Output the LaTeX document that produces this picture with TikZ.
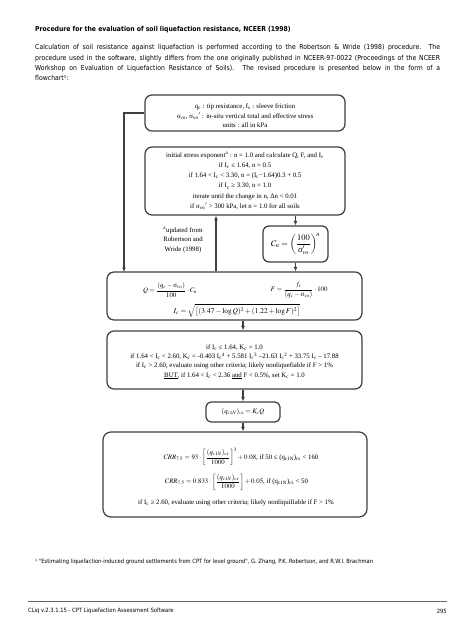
\documentclass[tikz,border=0pt]{standalone}
\usepackage{amsmath}
\usepackage{mathptmx}
\usepackage{fontspec}
\setmainfont{Liberation Serif}
\newfontfamily\sansbody{DejaVu Sans Condensed}
\usetikzlibrary{arrows.meta}
\newcommand{\sg}{\mbox{σ}}
\newcommand{\sbs}[1]{\textsubscript{#1}}
\begin{document}
\begin{tikzpicture}[x=1pt,y=-1pt,
  fcbox/.style={draw=black!75, line width=1.25pt, rounded corners=7pt, inner sep=0pt},
  fcarr/.style={draw=black!75, line width=1.25pt, -{Latex[length=4.5pt,width=4pt]}},
  ft/.style={font=\fontsize{6.8}{9.4}\selectfont, align=center, inner sep=0pt},
  ftb/.style={font=\fontsize{6.8}{10.2}\selectfont, align=center, inner sep=0pt},
  titlef/.style={font=\sansbody\bfseries\fontsize{6.8}{10}\selectfont, inner sep=0pt, anchor=west},
  bodyf/.style={font=\sansbody\fontsize{6.85}{10.2}\selectfont, inner sep=0pt},
  smallf/.style={font=\sansbody\fontsize{5.8}{7}\selectfont, inner sep=0pt}]
\coordinate (pgtl) at (0,0);
\coordinate (pgbr) at (474,632);
\fill[white] (pgtl) rectangle (pgbr);
\useasboundingbox (pgtl) rectangle (pgbr);

\node[titlef] (title) at (35,30) {Procedure for the evaluation of soil liquefaction resistance, NCEER (1998)};

\node[bodyf, anchor=north west, text width=405pt, align=justify] (para) at (35,44.5) {Calculation of soil resistance against liquefaction is performed according to the Robertson \& Wride (1998) procedure. The\linebreak procedure used in the software, slightly differs from the one originally published in NCEER-97-0022 (Proceedings of the NCEER\linebreak Workshop on Evaluation of Liquefaction Resistance of Soils). The revised procedure is presented below in the form of a\linebreak flowchart¹:};

% boxes
\node[fcbox, minimum width=200pt, minimum height=36pt] (b1) at (245,113) {};
\node[fcbox, minimum width=200pt, minimum height=68pt] (b2) at (245,181) {};
\node[fcbox, minimum width=65pt, minimum height=36pt, rounded corners=6pt] (cn) at (295.5,244) {};
\node[fcbox, minimum width=255pt, minimum height=48pt] (q) at (234.5,296) {};
\node[fcbox, minimum width=255pt, minimum height=58pt] (kc) at (234.5,360) {};
\node[fcbox, minimum width=74pt, minimum height=20pt, rounded corners=5pt] (qc) at (243,412) {};
\node[fcbox, minimum width=264pt, minimum height=85pt, rounded corners=8pt] (crr) at (235,474.5) {};

% texts
\node[ft] (t1) at (245,116) {q\sbs{c} : tip resistance, f\sbs{s} : sleeve friction\\
σ\sbs{vo}, σ\sbs{vo}$'$ : in-situ vertical total and effective stress\\
units : all in kPa};

\node[ftb] (t2) at (245,181) {initial stress exponent\textsuperscript{a} : n = 1.0 and calculate Q, F, and I\sbs{c}\\
if I\sbs{c} ≤ 1.64, n = 0.5\\
if 1.64 < I\sbs{c} < 3.30, n = (I\sbs{c}−1.64)0.3 + 0.5\\
if I\sbs{c} ≥ 3.30, n = 1.0\\
iterate until the change in n, Δn < 0.01\\
if σ\sbs{vo}$'$ > 300 kPa, let n = 1.0 for all soils};

\node[ft] (note) at (183,240) {\textsuperscript{a}updated from\\Robertson and\\Wride (1998)};

\node[ft, font=\fontsize{8.4}{10}\selectfont] (tcn) at (295.5,244) {$C_n=\left(\dfrac{100}{\sg_{vo}'}\right)^{\!n}$};

\node[ft] (tq) at (170,290) {$Q=\dfrac{(q_c-\sg_{vo})}{100}\cdot C_n$};
\node[ft] (tf) at (299,290) {$F=\dfrac{f_s}{(q_c-\sg_{vo})}\cdot 100$};
\node[ft, font=\fontsize{7.4}{9}\selectfont] (tic) at (237,311) {$I_c=\sqrt{\bigl[(3.47-\log Q)^2+(1.22+\log F)^2\bigr]}$};

\node[ft] (tkc) at (234.5,361.5) {if I\sbs{c} ≤ 1.64, K\sbs{c} = 1.0\\
if 1.64 < I\sbs{c} < 2.60, K\sbs{c} = -0.403 I\sbs{c}\textsuperscript{4} + 5.581 I\sbs{c}\textsuperscript{3} –21.63 I\sbs{c}\textsuperscript{2} + 33.75 I\sbs{c} – 17.88\\
if I\sbs{c} > 2.60, evaluate using other criteria; likely nonliquefiable if F > 1\%\\
\underline{BUT}, if 1.64 < I\sbs{c} < 2.36 \underline{and} F < 0.5\%, set K\sbs{c} = 1.0};

\node[ft] (tqc) at (243,412) {$(q_{c1N})_{cs}=K_cQ$};

\node[ft] (tcr1) at (241,457) {$CRR_{7.5}=93\cdot\left[\dfrac{(q_{c1N})_{cs}}{1000}\right]^3+0.08$, if 50 ≤ (q\sbs{c1N})\sbs{cs} < 160};
\node[ft] (tcr2) at (236.5,482) {$CRR_{7.5}=0.833\cdot\left[\dfrac{(q_{c1N})_{cs}}{1000}\right]+0.05$, if (q\sbs{c1N})\sbs{cs} < 50};
\node[ft] (tcr3) at (236,503) {if I\sbs{c} ≥ 2.60, evaluate using other criteria; likely nonliquifiable if F > 1\%};

% connectors
\coordinate (lc) at (124,272);
\coordinate (xu) at (216,0);
\draw[fcarr] (b1.west) -| (lc);
\draw[fcarr] (q.north -| xu) -- (b2.south -| xu);
\draw[fcarr] (b2.south -| cn) -- (cn.north);
\draw[fcarr] (cn.south) -- (q.north -| cn);
\draw[fcarr] (q.south -| qc) -- (kc.north -| qc);
\draw[fcarr] (kc.south -| qc) -- (qc.north);
\draw[fcarr] (qc.south) -- (crr.north -| qc);

% footnote and footer
\node[smallf, anchor=west] (fn) at (35,562) {¹ "Estimating liquefaction-induced ground settlements from CPT for level ground", G. Zhang, P.K. Robertson, and R.W.I. Brachman};
\node[smallf, anchor=west] (foot) at (28,611) {CLiq v.2.3.1.15 - CPT Liquefaction Assessment Software};
\node[smallf, anchor=east] (pg) at (447,611) {295};
\coordinate (rl) at (28,601);
\coordinate (rr) at (447,601);
\draw[black!60, line width=1pt] (rl) -- (rr);
\end{tikzpicture}
\end{document}
